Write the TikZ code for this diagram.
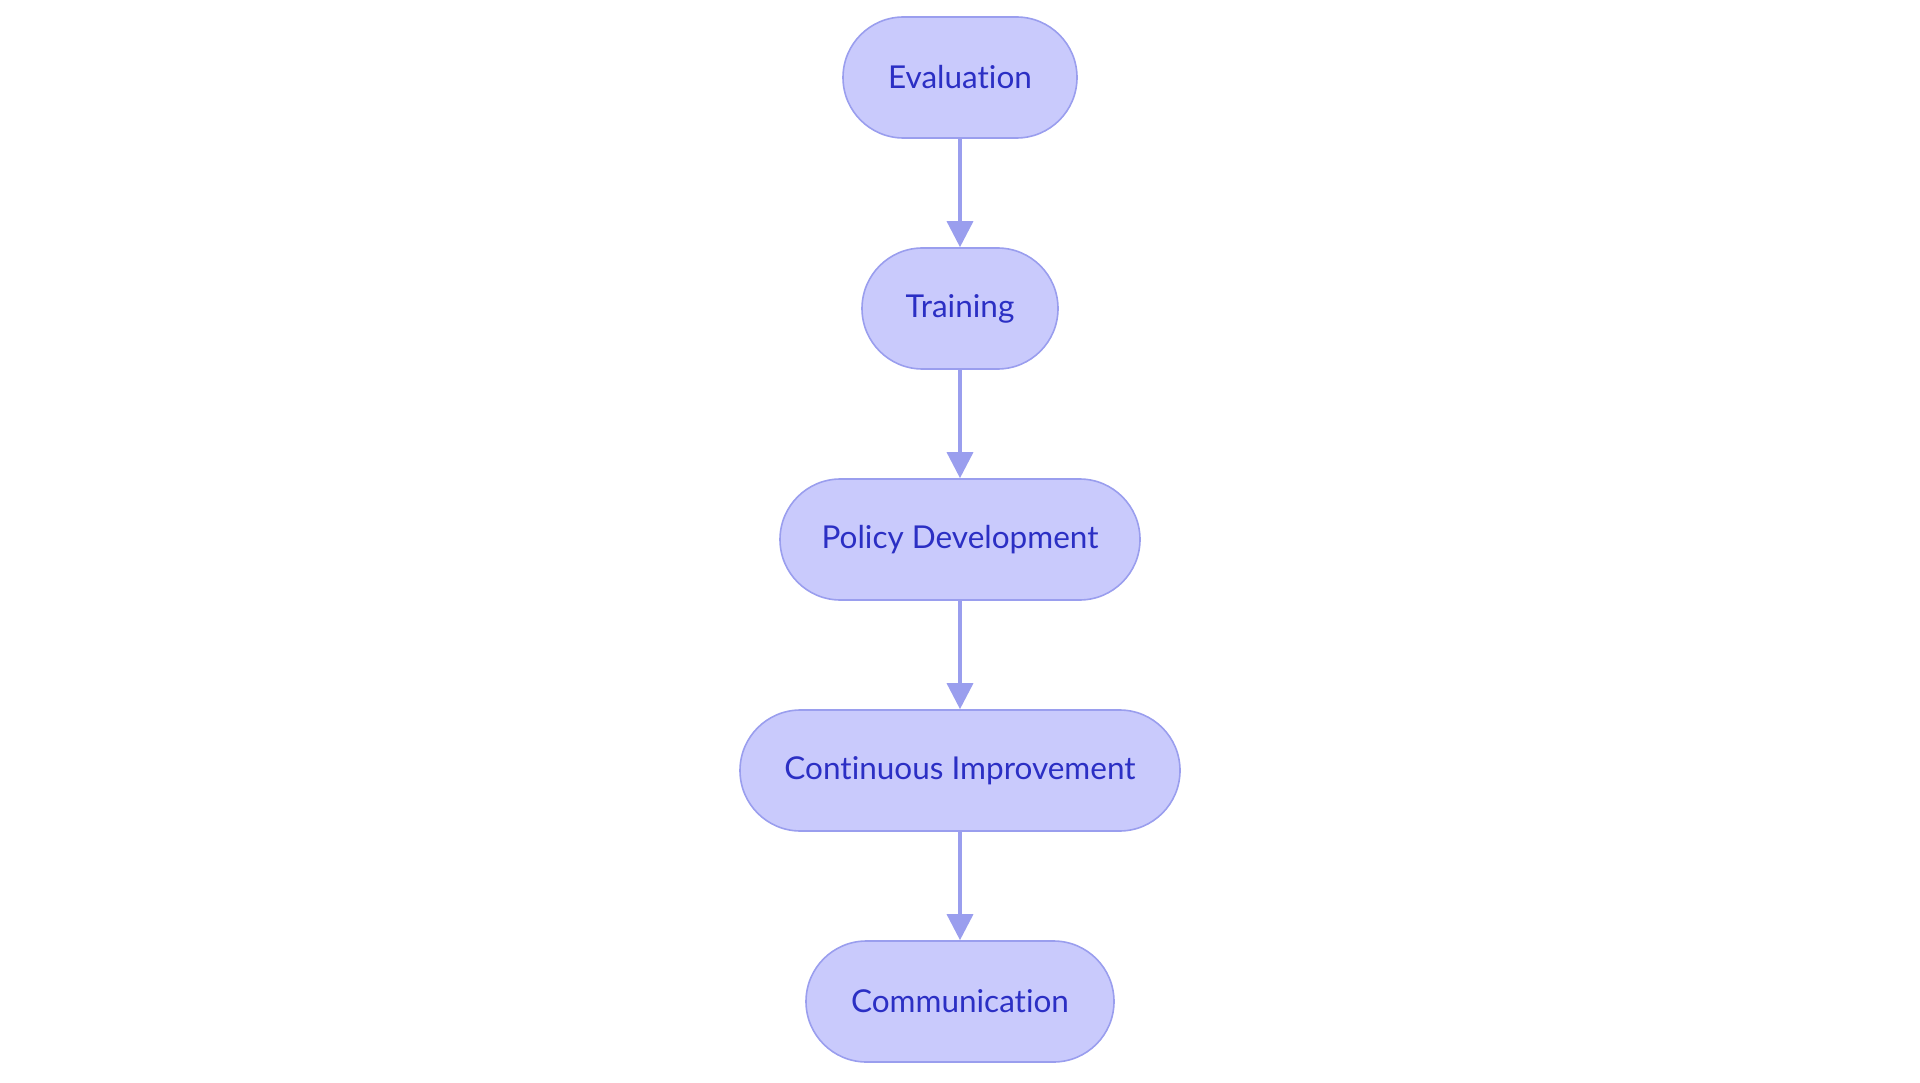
\documentclass[tikz,border=0pt]{standalone}
\usepackage{fontspec}
\setmainfont{Lato}[Ligatures={CommonOff,ContextualOff}]
\usetikzlibrary{arrows.meta}
\definecolor{nodefill}{HTML}{C9CAFC}
\definecolor{nodeline}{HTML}{9A9EEE}
\definecolor{nodetext}{HTML}{2B2FC4}
\definecolor{edgecol}{HTML}{9A9EEE}
\tikzset{
  stage/.style={draw=nodeline, line width=1.6pt, fill=nodefill, rounded corners=60.5pt,
    minimum height=121pt, inner sep=0pt, text=nodetext,
    font=\fontsize{31.5}{36}\selectfont},
  flow/.style={draw=edgecol, line width=3.5pt,
    -{Triangle[length=26pt,width=26pt]}, shorten >=0pt}
}
\begin{document}
\begin{tikzpicture}[x=1pt,y=1pt]
\useasboundingbox (0,0) rectangle (1920,-1083);
\node[stage, minimum width=234pt] (eval) at (960,-77.5) {\raisebox{1pt}{Evaluation}};
\node[stage, minimum width=196pt] (train) at (960,-308.5) {\raisebox{1pt}{Training}};
\node[stage, minimum width=360pt] (policy) at (960,-539.5) {\raisebox{1pt}{Policy Development}};
\node[stage, minimum width=440pt] (cont) at (960,-770.5) {\raisebox{1pt}{Continuous Improvement}};
\node[stage, minimum width=308pt] (comm) at (960,-1001.5) {\raisebox{1pt}{Communication}};
\draw[flow] (eval) -- (train);
\draw[flow] (train) -- (policy);
\draw[flow] (policy) -- (cont);
\draw[flow] (cont) -- (comm);
\end{tikzpicture}
\end{document}
